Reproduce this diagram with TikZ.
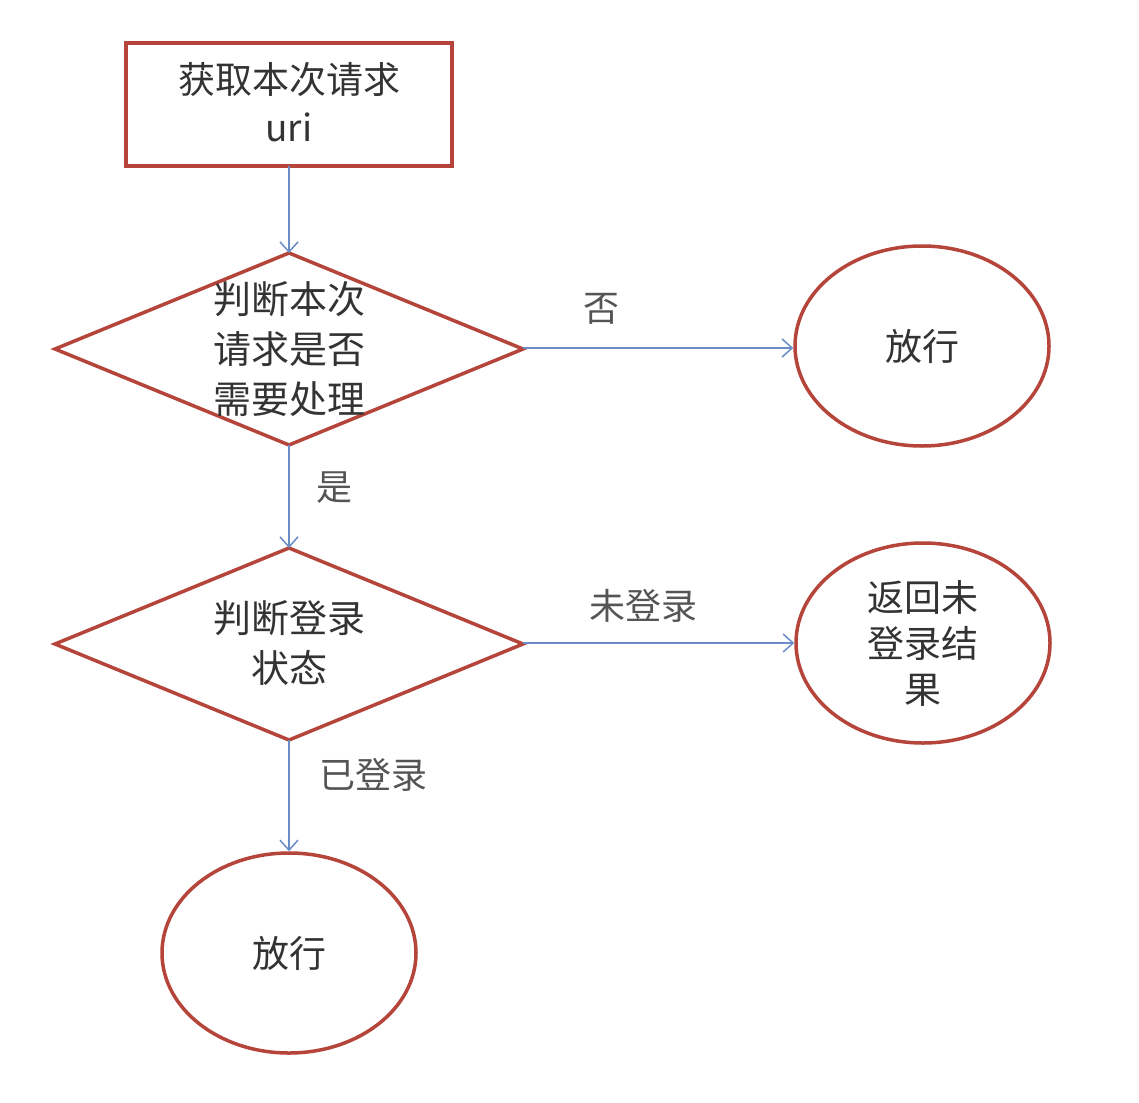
\documentclass[tikz,border=0pt]{standalone}
\usepackage{fontspec}
\setmainfont{Noto Sans CJK SC}
\usetikzlibrary{shapes.geometric,arrows.meta}
\definecolor{bord}{HTML}{B5443A}
\definecolor{arr}{HTML}{6A8DC8}
\definecolor{txt}{HTML}{333333}
\definecolor{lbl}{HTML}{555555}
\tikzset{
  box/.style={draw=bord,line width=4pt},
  ell/.style={draw=bord,line width=3.5pt,ellipse,minimum width=254pt,minimum height=200pt,inner sep=0pt,text=txt,font=\fontsize{37}{46}\selectfont,align=center},
  conn/.style={draw=arr,line width=1.5pt,-{Straight Barb[length=10pt,width=18pt]}},
  lab/.style={text=lbl,font=\fontsize{36}{40}\selectfont},
  inner/.style={text=txt,font=\fontsize{37}{48}\selectfont,align=center}
}
\begin{document}
\begin{tikzpicture}[x=1pt,y=-1pt]
\useasboundingbox[fill=white] (0,0) rectangle (1139,1102);
\draw[box] (126,43) rectangle (452,166);
\node[inner] (r) at (289,102) {获取本次请求\\uri};
\coordinate (rb) at (289,166);
\draw[box,line width=3.5pt] (55,349) -- (289,253) -- (523,349) -- (289,445) -- cycle;
\coordinate (d1t) at (289,253);
\coordinate (d1r) at (523,348);
\coordinate (d1b) at (289,445);
\node[inner,font=\fontsize{38}{50}\selectfont] (d1) at (289,349) {判断本次\\请求是否\\需要处理};
\draw[box,line width=3.5pt] (55,644) -- (289,548) -- (523,644) -- (289,740) -- cycle;
\coordinate (d2t) at (289,548);
\coordinate (d2r) at (523,643);
\coordinate (d2b) at (289,740);
\node[inner,font=\fontsize{38}{50}\selectfont] (d2) at (289,643) {判断登录\\状态};
\node[ell] (c1) at (922,346) {放行};
\node[ell] (c2) at (923,643) {返回未\\登录结\\果};
\node[ell] (c3) at (289,953) {放行};
\draw[conn] (rb) -- (d1t);
\draw[conn] (d1r) -- (d1r -| c1.west);
\draw[conn] (d1b) -- (d2t);
\draw[conn] (d2r) -- (d2r -| c2.west);
\draw[conn] (d2b) -- (c3.north);
\node[lab] (l1) at (601,309) {否};
\node[lab] (l2) at (334,488) {是};
\node[lab] (l3) at (643,606) {未登录};
\node[lab] (l4) at (373,775) {已登录};
\end{tikzpicture}
\end{document}
